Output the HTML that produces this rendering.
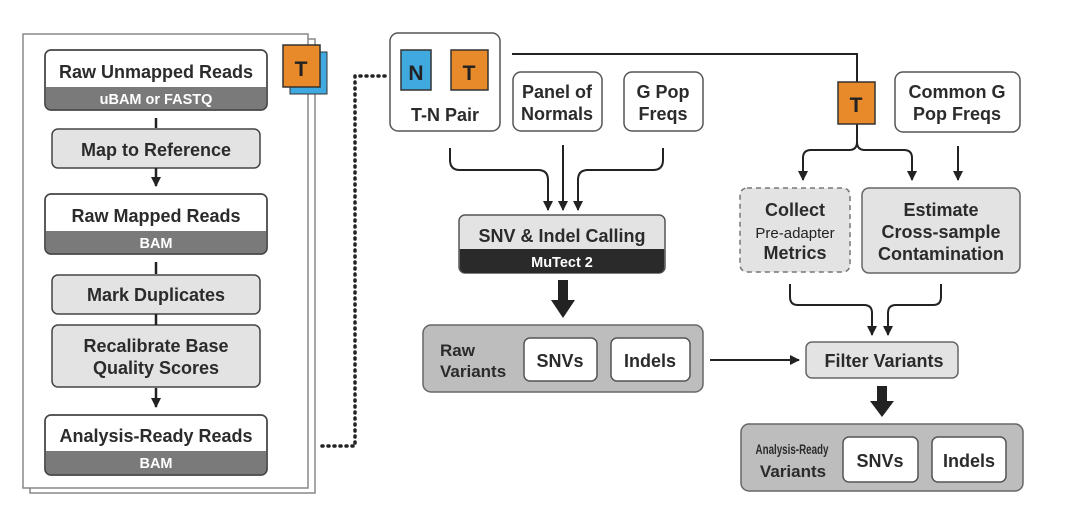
<!DOCTYPE html>
<html><head><meta charset="utf-8"><style>body{margin:0;background:#fff}svg{display:block}text{font-family:"Liberation Sans",sans-serif;font-weight:bold;fill:#2b2b2b;text-anchor:middle}</style></head><body>
<svg width="1080" height="524" viewBox="0 0 1080 524">
<defs><marker id="a" markerWidth="10" markerHeight="10" refX="9" refY="5" orient="auto" markerUnits="userSpaceOnUse"><path d="M0,0 L10,5 L0,10 Z" fill="#222"/></marker></defs>
<g stroke="#222" stroke-width="2" fill="none">
<rect x="30" y="39" width="285" height="454" fill="#fff" stroke="#888" stroke-width="1.5"/>
<rect x="23" y="34" width="285" height="454" fill="#fff" stroke="#888" stroke-width="1.5"/>
</g>
<g stroke="#444" stroke-width="1.5">
<rect x="45" y="50" width="222" height="60" rx="6" fill="#fff"/>
<path d="M45.8,87 H266.2 V104 a6,6 0 0 1 -6,6 H51.8 a6,6 0 0 1 -6,-6 Z" fill="#7a7a7a" stroke="none"/>
<rect x="45" y="50" width="222" height="60" rx="6" fill="none"/>
<rect x="52" y="129" width="208" height="39" rx="6" fill="#e3e3e3"/>
<rect x="45" y="194" width="222" height="60" rx="6" fill="#fff"/>
<path d="M45.8,231 H266.2 V248 a6,6 0 0 1 -6,6 H51.8 a6,6 0 0 1 -6,-6 Z" fill="#7a7a7a" stroke="none"/>
<rect x="45" y="194" width="222" height="60" rx="6" fill="none"/>
<rect x="52" y="275" width="208" height="39" rx="6" fill="#e3e3e3"/>
<rect x="52" y="325" width="208" height="62" rx="6" fill="#e3e3e3"/>
<rect x="45" y="415" width="222" height="60" rx="6" fill="#fff"/>
<path d="M45.8,451 H266.2 V469 a6,6 0 0 1 -6,6 H51.8 a6,6 0 0 1 -6,-6 Z" fill="#7a7a7a" stroke="none"/>
<rect x="45" y="415" width="222" height="60" rx="6" fill="none"/>
</g>
<g stroke="#222" stroke-width="2.5" fill="none">
<path d="M156,118 V128"/><path d="M156,168 V186" marker-end="url(#a)"/>
<path d="M156,262 V274"/><path d="M156,314 V325"/><path d="M156,388 V407" marker-end="url(#a)"/>
</g>
<text x="156" y="78" font-size="18">Raw Unmapped Reads</text>
<text x="156" y="104" font-size="14.5" style="fill:#fff">uBAM or FASTQ</text>
<text x="156" y="156" font-size="18">Map to Reference</text>
<text x="156" y="222" font-size="18">Raw Mapped Reads</text>
<text x="156" y="248" font-size="14.5" style="fill:#fff">BAM</text>
<text x="156" y="301" font-size="18">Mark Duplicates</text>
<text x="156" y="352" font-size="18">Recalibrate Base</text>
<text x="156" y="374" font-size="18">Quality Scores</text>
<text x="156" y="442" font-size="18">Analysis-Ready Reads</text>
<text x="156" y="468" font-size="14.5" style="fill:#fff">BAM</text>
<rect x="290" y="52" width="37" height="42" fill="#3fa9e0" stroke="#333" stroke-width="1"/>
<rect x="283" y="45" width="37" height="42" fill="#e8892a" stroke="#333" stroke-width="1.5"/>
<text x="301" y="76" font-size="21" style="fill:#222">T</text>
<path d="M322,446 H355 V76 H385" stroke="#222" stroke-width="3.5" fill="none" stroke-dasharray="1 5" stroke-linecap="round"/>
<g stroke="#555" stroke-width="1.5">
<rect x="390" y="33" width="110" height="98" rx="8" fill="#fff"/>
<rect x="401" y="50" width="30" height="40" fill="#3fa9e0" stroke="#333"/>
<rect x="451" y="50" width="37" height="40" fill="#e8892a" stroke="#333"/>
<rect x="513" y="72" width="89" height="59" rx="8" fill="#fff"/>
<rect x="624" y="72" width="79" height="59" rx="8" fill="#fff"/>
<rect x="895" y="72" width="125" height="60" rx="8" fill="#fff"/>
</g>
<text x="416" y="80" font-size="21" style="fill:#222">N</text>
<text x="469" y="80" font-size="21" style="fill:#222">T</text>
<text x="445" y="121" font-size="18">T-N Pair</text>
<text x="557" y="98" font-size="18">Panel of</text><text x="557" y="120" font-size="18">Normals</text>
<text x="663" y="98" font-size="18">G Pop</text><text x="663" y="120" font-size="18">Freqs</text>
<text x="957" y="98" font-size="18">Common G</text><text x="957" y="120" font-size="18">Pop Freqs</text>
<g stroke="#222" stroke-width="2" fill="none">
<path d="M512,54 H857 V82"/>
<path d="M450,148 V160 Q450,170 460,170 H538 Q548,170 548,180 V210" marker-end="url(#a)"/>
<path d="M563,145 V210" marker-end="url(#a)"/>
<path d="M663,148 V160 Q663,170 653,170 H588 Q578,170 578,180 V210" marker-end="url(#a)"/>
<path d="M857,124 V142 Q857,150 849,150 H811 Q803,150 803,158 V180" marker-end="url(#a)"/>
<path d="M857,142 Q857,150 865,150 H904 Q912,150 912,158 V180" marker-end="url(#a)"/>
<path d="M958,146 V180" marker-end="url(#a)"/>
<path d="M790,284 V297 Q790,305 798,305 H864 Q872,305 872,313 V335" marker-end="url(#a)"/>
<path d="M941,284 V297 Q941,305 933,305 H896 Q888,305 888,313 V335" marker-end="url(#a)"/>
<path d="M710,360 H799" marker-end="url(#a)"/>
</g>
<rect x="838" y="82" width="37" height="42" fill="#e8892a" stroke="#333" stroke-width="1.5"/>
<text x="856" y="112" font-size="21" style="fill:#222">T</text>
<rect x="459" y="215" width="206" height="58" rx="6" fill="#e3e3e3" stroke="#555" stroke-width="1.5"/>
<path d="M459.8,249 H664.2 V267 a6,6 0 0 1 -6,6 H465.8 a6,6 0 0 1 -6,-6 Z" fill="#2a2a2a"/>
<text x="562" y="242" font-size="18">SNV &amp; Indel Calling</text>
<text x="562" y="267" font-size="14.5" style="fill:#fff">MuTect 2</text>
<path d="M558,280 h10 v20 h7 l-12,18 l-12,-18 h7 z" fill="#222"/>
<path d="M877,386 h10 v15 h7 l-12,16 l-12,-16 h7 z" fill="#222"/>
<rect x="423" y="325" width="280" height="67" rx="8" fill="#bdbdbd" stroke="#666" stroke-width="1.5"/>
<rect x="524" y="338" width="73" height="43" rx="6" fill="#fff" stroke="#555" stroke-width="1.5"/>
<rect x="611" y="338" width="79" height="43" rx="6" fill="#fff" stroke="#555" stroke-width="1.5"/>
<text x="440" y="356" font-size="17" style="text-anchor:start">Raw</text>
<text x="440" y="377" font-size="17" style="text-anchor:start">Variants</text>
<text x="560" y="367" font-size="18">SNVs</text>
<text x="650" y="367" font-size="18">Indels</text>
<rect x="740" y="188" width="110" height="84" rx="7" fill="#e3e3e3" stroke="#777" stroke-width="1.5" stroke-dasharray="5 4"/>
<text x="795" y="216" font-size="18">Collect</text>
<text x="795" y="238" font-size="15" style="font-weight:normal;fill:#222">Pre-adapter</text>
<text x="795" y="259" font-size="18">Metrics</text>
<rect x="862" y="188" width="158" height="85" rx="7" fill="#e3e3e3" stroke="#666" stroke-width="1.5"/>
<text x="941" y="216" font-size="18">Estimate</text>
<text x="941" y="238" font-size="18">Cross-sample</text>
<text x="941" y="260" font-size="18">Contamination</text>
<rect x="806" y="342" width="152" height="36" rx="6" fill="#e3e3e3" stroke="#666" stroke-width="1.5"/>
<text x="884" y="367" font-size="18">Filter Variants</text>
<rect x="741" y="424" width="282" height="67" rx="8" fill="#bdbdbd" stroke="#666" stroke-width="1.5"/>
<rect x="843" y="437" width="75" height="45" rx="6" fill="#fff" stroke="#555" stroke-width="1.5"/>
<rect x="932" y="437" width="74" height="45" rx="6" fill="#fff" stroke="#555" stroke-width="1.5"/>
<text x="792" y="454" font-size="14" transform="translate(792,0) scale(0.7,1) translate(-792,0)">Analysis-Ready</text>
<text x="793" y="477" font-size="17">Variants</text>
<text x="880" y="467" font-size="18">SNVs</text>
<text x="969" y="467" font-size="18">Indels</text>
</svg>
</body></html>
